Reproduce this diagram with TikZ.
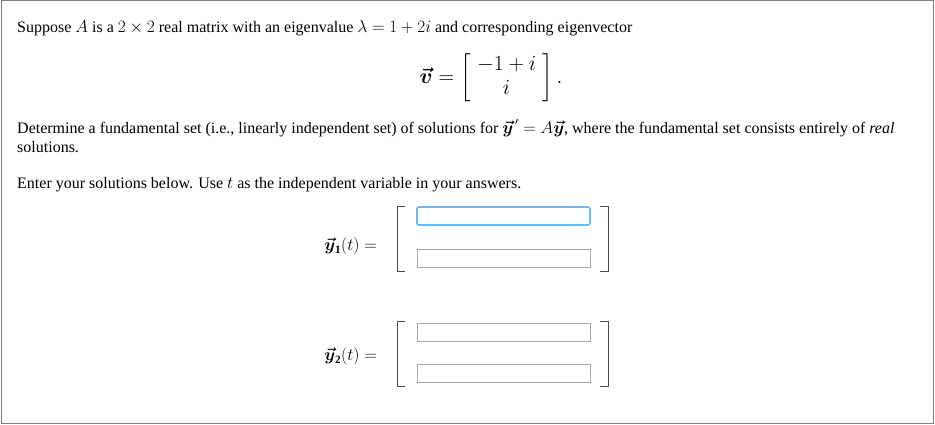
\documentclass[tikz,border=0pt]{standalone}
\usepackage{amsmath,amssymb}
\usepackage{fontspec}
\setmainfont{Liberation Serif}
\begin{document}
\begin{tikzpicture}[x=1pt,y=-1pt,
  txt/.style={anchor=base west,inner sep=0pt,font=\fontsize{16}{19}\selectfont},
  ansbox/.style={draw=black!35,line width=0.8pt,fill=white},
  focusbox/.style={draw=blue!45!cyan!60,line width=1.6pt,rounded corners=1.5pt,fill=white},
  brk/.style={line width=0.8pt,black!70}]
\useasboundingbox (0,0) rectangle (935,425);
\draw[black!50,line width=1pt] (1,1) rectangle (933,423);
\node[txt] (l1) at (17,33) {Suppose $A$ is a $2\times 2$ real matrix with an eigenvalue $\lambda=1+2i$ and corresponding eigenvector};
\node[anchor=center,inner sep=0pt,font=\fontsize{16}{19}\selectfont,scale=1.25] (v) at (491,78) {$\boldsymbol{\vec v}=\left[\begin{array}{c}-1+i\\ i\end{array}\right].$};
\node[txt] (l2) at (17,134) {Determine a fundamental set (i.e., linearly independent set) of solutions for ${\boldsymbol{\vec y}}^{\,\prime}=A\boldsymbol{\vec y}$, where the fundamental set consists entirely of \textit{real}};
\node[txt] (l3) at (17,153) {solutions.};
\node[txt] (l4) at (17,189) {Enter your solutions below. Use $t$ as the independent variable in your answers.};
\node[txt,anchor=base east] (y1) at (377,250) {$\boldsymbol{\vec y}_{\mathbf 1}(t)=$};
\node[txt,anchor=base east] (y2) at (377,360) {$\boldsymbol{\vec y}_{\mathbf 2}(t)=$};
\draw[brk] (405,206) -- (397,206) -- (397,271) -- (405,271);
\draw[brk] (600,206) -- (608,206) -- (608,271) -- (600,271);
\draw[brk] (405,321) -- (397,321) -- (397,386) -- (405,386);
\draw[brk] (600,321) -- (608,321) -- (608,386) -- (600,386);
\node[focusbox,minimum width=173pt,minimum height=18pt,inner sep=0pt] (b1) at (503.5,216) {};
\node[ansbox,minimum width=173pt,minimum height=18pt,inner sep=0pt] (b2) at (503.5,258) {};
\node[ansbox,minimum width=173pt,minimum height=18pt,inner sep=0pt] (b3) at (503.5,332) {};
\node[ansbox,minimum width=173pt,minimum height=18pt,inner sep=0pt] (b4) at (503.5,373) {};
\end{tikzpicture}
\end{document}
